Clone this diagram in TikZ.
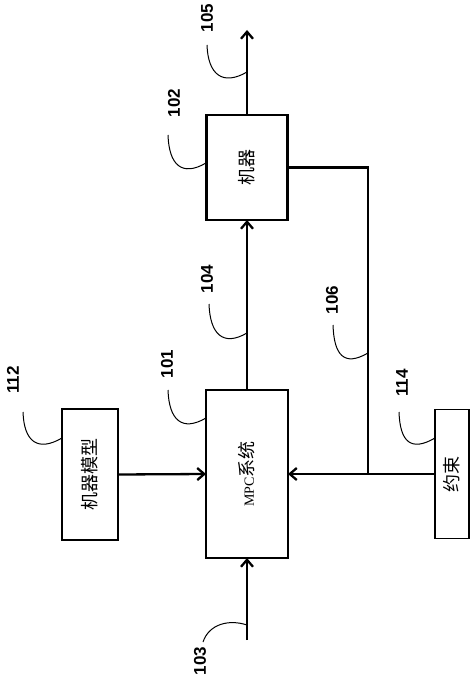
\documentclass[tikz,border=0pt]{standalone}
\usepackage{fontspec}
\setmainfont{Liberation Serif}
\newfontfamily\cjk{Noto Sans CJK SC}
\newfontfamily\labfont{Liberation Sans}
\usetikzlibrary{arrows.meta}
\begin{document}
\begin{tikzpicture}[x=1pt,y=-1pt,
  mainbox/.style={draw,line width=2.2pt,inner sep=0pt,outer sep=0pt},
  sidebox/.style={draw,line width=1.1pt,inner sep=0pt,outer sep=0pt},
  boxtext/.style={rotate=90,font=\cjk\fontsize{18}{18}\selectfont,inner sep=0pt},
  reflab/.style={rotate=90,font=\labfont\bfseries\fontsize{17}{17}\selectfont,inner sep=0pt},
  flow/.style={line width=2.3pt,-{Straight Barb[length=7pt,width=12pt,line width=2.3pt]}},
  wire/.style={line width=2.3pt},
  leader/.style={line width=1pt}]
\useasboundingbox (0,0) rectangle (474,684);

% boxes
\node[mainbox,minimum width=81pt,minimum height=105pt] (mach) at (247,167.5) {};
\node[boxtext] at (mach) {机器};
\node[mainbox,minimum width=82pt,minimum height=168pt] (mpc) at (247,474) {};
\node[boxtext] at (mpc) {{\rmfamily\fontsize{14}{14}\selectfont MPC}系统};
\node[sidebox,minimum width=56pt,minimum height=131pt] (model) at (90,474.5) {};
\node[boxtext] at (model) {机器模型};
\node[sidebox,minimum width=34pt,minimum height=129pt] (cons) at (452,474) {};
\node[boxtext] at (cons) {约束};

% coordinates
\coordinate (out) at (247,30);
\coordinate (in) at (247,640);
\coordinate (fbtop) at (368,167.5);
\coordinate (junc) at (368,474);

% connectors
\draw[flow] (mach.north) -- (out);
\draw[flow] (mpc.north) -- (mach.south);
\draw[flow] (in) -- (mpc.south);
\draw[flow] (model.east) -- (mpc.west);
\draw[flow] (cons.west) -- (mpc.east);
\draw[wire] (mach.east) -- (fbtop) -- (junc);

% reference labels
\node[reflab] (l112) at (13,380) {112};
\node[reflab] (l101) at (167,364) {101};
\node[reflab] (l102) at (174,103) {102};
\node[reflab] (l105) at (207,18) {105};
\node[reflab] (l104) at (207,279) {104};
\node[reflab] (l106) at (332,300) {106};
\node[reflab] (l114) at (402,383) {114};
\node[reflab] (l103) at (200,661) {103};

% leaders
\coordinate (e112) at (62,438);
\coordinate (e101) at (206,418);
\coordinate (e102) at (206,163);
\coordinate (e105) at (247,72);
\coordinate (e104) at (247,333);
\coordinate (e106) at (368,353);
\coordinate (e114) at (435,438);
\coordinate (e103) at (247,625);
\draw[leader] (23,412) .. controls +(1,30) and +(-24,14) .. (e112);
\draw[leader] (168,390) .. controls +(1,30) and +(-24,14) .. (e101);
\draw[leader] (168,135) .. controls +(1,30) and +(-24,14) .. (e102);
\draw[leader] (207,45) .. controls +(1,30) and +(-24,14) .. (e105);
\draw[leader] (209,304) .. controls +(1,30) and +(-24,14) .. (e104);
\draw[leader] (333,325) .. controls +(1,30) and +(-24,14) .. (e106);
\draw[leader] (399,412) .. controls +(1,30) and +(-24,14) .. (e114);
\draw[leader] (203,642) .. controls +(6,-18) and +(-18,-6) .. (e103);
\end{tikzpicture}
\end{document}
